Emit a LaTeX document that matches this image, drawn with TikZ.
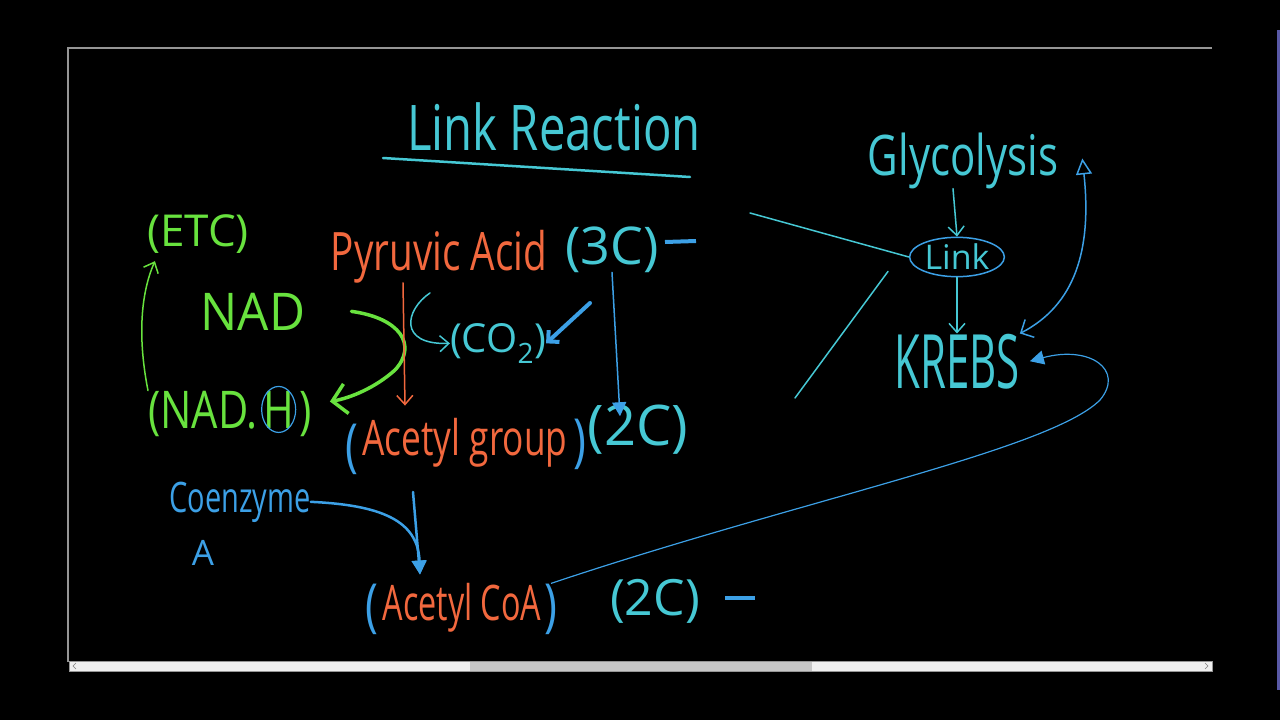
\documentclass[tikz,border=0pt]{standalone}
\usepackage{fontspec}
\setmainfont{Open Sans}
\usetikzlibrary{arrows.meta,shapes.geometric,positioning}
\definecolor{inkcyan}{RGB}{70,200,212}
\definecolor{inkblue}{RGB}{60,160,230}
\definecolor{inkorange}{RGB}{242,104,62}
\definecolor{inkgreen}{RGB}{104,226,62}
\definecolor{framegray}{RGB}{150,150,150}
\newcommand{\inksize}[1]{\fontsize{#1}{#1}\selectfont}
\newcommand{\inkw}[2]{\scalebox{#1}[1]{#2}}

\begin{document}
\begin{tikzpicture}[x=1pt,y=-1pt,
  ink/.style={inner sep=0pt,anchor=base},
  pen/.style={line width=2.5pt,line cap=round},
  thinpen/.style={line width=1.5pt,line cap=round},
  barb/.style={-{Straight Barb[length=9pt,width=16pt]}},
  tri/.style={-{Triangle[length=14pt,width=14pt]}}]
% tegn skaerm
\fill[black] (0,0) rectangle (1280,720);
\draw[framegray,line width=1.5pt] (68,662) -- (68,48) -- (1212,48);
\fill[white!94!black] (69,661) rectangle (1212,671);
\fill[white!78!black] (470,661) rectangle (812,671);
\draw[framegray,line width=0.6pt] (69,661) rectangle (1212,671);
\draw[gray,line width=0.6pt] (76,663) -- (73,666) -- (76,669);
\draw[gray,line width=0.6pt] (1205,663) -- (1208,666) -- (1205,669);
\draw[gray!70!blue,line width=3pt] (1278,30) -- (1278,690);
% overskrift
\node[ink,text=inkcyan,font=\inksize{63}] (title) at (554,150) {\inkw{0.75}{Link Reaction}};
\draw[inkcyan,pen] (383,158) -- (690,177);
% kredsloeb
\node[ink,text=inkcyan,font=\inksize{56}] (glyco) at (963,175) {\inkw{0.75}{Glycolysis}};
\node[draw=inkblue,thinpen,ellipse,text=inkcyan,font=\inksize{34},inner sep=1pt,minimum width=90pt,minimum height=36pt] (link) at (957,257) {Link};
\node[ink,text=inkcyan,font=\inksize{75}] (krebs) at (957,388) {\inkw{0.56}{KREBS}};
\draw[inkcyan,thinpen,barb] ([xshift=-10pt]glyco.south) -- (link.north);
\draw[inkcyan,thinpen,barb] (link.south) -- (krebs.north);
\draw[inkblue,thinpen,{Triangle[open,length=16pt,width=16pt]}-{Straight Barb[length=10pt,width=20pt]}] ([xshift=24pt,yshift=2pt]glyco.east) .. controls (1092,250) and (1075,305) .. (krebs.north east);
\coordinate (f1) at (750,213);
\coordinate (f2) at (795,398);
\draw[inkcyan,thinpen] (f1) -- (link.west);
\draw[inkcyan,thinpen] (f2) -- ([xshift=-35pt]link.south west);
% venstre side
\node[ink,text=inkgreen,font=\inksize{44}] (etc) at (198,246) {(ETC)};
\node[ink,text=inkgreen,font=\inksize{52}] (nad) at (253,330) {\inkw{0.95}{NAD}};
\node[ink,anchor=base west,text=inkgreen,font=\inksize{52}] (nadh) at (148,428) {\inkw{0.8}{(NAD.}};
\node[ink,anchor=base west,text=inkgreen,font=\inksize{52}] (hatom) at ([xshift=5pt]nadh.base east) {\inkw{0.8}{H}};
\node[ink,anchor=base west,text=inkgreen,font=\inksize{52}] (nadhr) at ([xshift=5pt]hatom.base east) {\inkw{0.8}{)}};
\draw[inkblue,line width=1.2pt] (hatom.center) ellipse (17 and 23);
\draw[inkgreen,thinpen,barb] (nadh.north west) .. controls (138,340) and (140,295) .. ([xshift=8pt,yshift=-8pt]etc.south west);
% pyruvat
\node[ink,text=inkorange,font=\inksize{53}] (pyr) at (439,270) {\inkw{0.73}{Pyruvic Acid}};
\node[ink,text=inkcyan,font=\inksize{52}] (tc) at (612,264) {(3C)};
\draw[inkblue,line width=4pt] (665,242) -- (696,241);
\node[ink,text=inkcyan,font=\inksize{40}] (co2) at (498,352) {(CO\textsubscript{2})};
\coordinate (co2tail) at (590,303);
\draw[inkblue,line width=4pt,line cap=round,-{Straight Barb[length=8pt,width=16pt]}] (co2tail) -- (co2.east);
\draw[inkcyan,thinpen,barb] ([xshift=-9pt,yshift=-10pt]pyr.south) .. controls (405,310) and (398,345) .. (co2.west);
\draw[inkgreen,line width=3.5pt,line cap=round,-{Straight Barb[length=14pt,width=30pt]}] ([xshift=46pt]nad.east) .. controls (400,318) and (418,345) .. (395,370) .. controls (375,388) and (350,398) .. ([xshift=18pt,yshift=12pt]nadhr.east);
% acetyl gruppe
\node[ink,text=inkorange,font=\inksize{49}] (acg) at (465,455) {\inkw{0.72}{Acetyl group}};
\node[ink,text=inkblue,font=\inksize{58}] (acgl) at (352,465) {\inkw{0.75}{(}};
\node[ink,text=inkblue,font=\inksize{58}] (acgr) at (580,460) {\inkw{0.75}{)}};
\node[ink,text=inkcyan,font=\inksize{56}] (twoc) at (638,445) {(2C)};
\draw[inkorange,thinpen,barb] ([xshift=-36pt]pyr.south) -- ([xshift=-60pt,yshift=12pt]acg.north);
\draw[inkblue,thinpen,tri] (tc.south) -- ([xshift=-18pt,yshift=-12pt]twoc.north);
% coenzym A
\node[ink,text=inkblue,font=\inksize{42}] (coenz) at (240,512) {\inkw{0.69}{Coenzyme}};
\node[ink,text=inkblue,font=\inksize{35}] (coa) at (203,565) {A};
\node[ink,text=inkorange,font=\inksize{49}] (acoa) at (462,620) {\inkw{0.66}{Acetyl CoA}};
\node[ink,text=inkblue,font=\inksize{58}] (acoal) at (372,625) {\inkw{0.75}{(}};
\node[ink,text=inkblue,font=\inksize{58}] (acoar) at (551,625) {\inkw{0.75}{)}};
\coordinate (coatip) at ([xshift=-42pt,yshift=8pt]acoa.north);
\draw[inkblue,pen,tri] (coenz.east) .. controls (380,505) and (418,520) .. (coatip);
\draw[inkblue,pen,tri] ([xshift=-52pt,yshift=-25pt]acg.south) -- (coatip);
\node[ink,text=inkcyan,font=\inksize{50}] (twocb) at (655,615) {(2C)};
\draw[inkblue,line width=4pt] (725,598) -- (755,598);
\draw[inkblue,line width=1.2pt,-{Triangle[length=14pt,width=14pt]}] (acoar.north) .. controls (800,500) and (1050,450) .. (1100,400) .. controls (1125,370) and (1090,345) .. ([xshift=10pt]krebs.east);
\end{tikzpicture}
\end{document}
